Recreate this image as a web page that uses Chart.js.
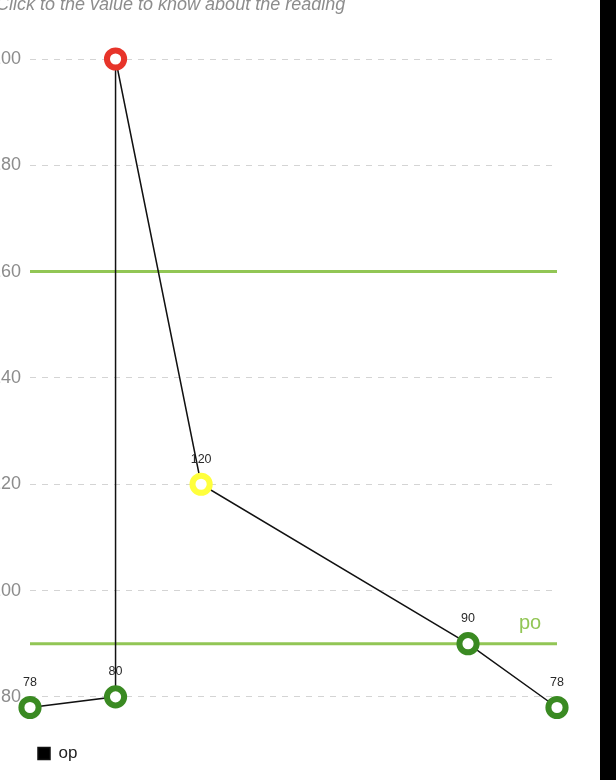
<!DOCTYPE html>
<html>
<head>
<meta charset="utf-8">
<script src="https://cdn.jsdelivr.net/npm/chart.js@4.4.1/dist/chart.umd.min.js"></script>
<style>
  html, body { margin: 0; padding: 0; background: #000; overflow: hidden; }
  #frame { position: relative; width: 600px; height: 780px; background: #fff; overflow: hidden; }
  #wrap { position: absolute; left: -4px; top: -6px; width: 604px; height: 778px; }
</style>
</head>
<body>
<div id="frame">
  <div id="wrap"><canvas id="grafico"></canvas></div>
</div>
<script>
// Dados
const tempos = [0, 1, 1, 2, 5.12, 6.16];
const leituras = [78, 80, 200, 120, 90, 78];
const coresPontos = ['#3a8a22', '#3a8a22', '#e7342a', '#ffff3c', '#3a8a22', '#3a8a22'];
const ticksY = [80, 100, 120, 140, 160, 180, 200];
const limites = [160, 90];
const nomesLimites = ['', 'po'];

const VERDE = '#92c655';
const FONTE = '"Liberation Sans", Arial, sans-serif';

// Linhas de limite (desenhadas por baixo da série)
const pluginLimites = {
    id: 'limites',
    beforeDatasetsDraw(chart) {
        const { ctx, chartArea, scales } = chart;
        ctx.save();
        ctx.strokeStyle = VERDE;
        ctx.lineWidth = 3;
        limites.forEach((valor, i) => {
            const y = scales.y.getPixelForValue(valor);
            ctx.beginPath();
            ctx.moveTo(chartArea.left, y);
            ctx.lineTo(chartArea.right, y);
            ctx.stroke();
            if (nomesLimites[i]) {
                ctx.fillStyle = VERDE;
                ctx.font = '20px ' + FONTE;
                ctx.textAlign = 'center';
                ctx.textBaseline = 'alphabetic';
                ctx.fillText(nomesLimites[i], chartArea.right - 27, y - 15);
            }
        });
        ctx.restore();
    }
};

// Rótulos dos valores acima dos pontos
const pluginRotulos = {
    id: 'rotulos',
    afterDatasetsDraw(chart) {
        const { ctx, chartArea } = chart;
        const meta = chart.getDatasetMeta(0);
        ctx.save();
        ctx.fillStyle = '#2a2a2a';
        ctx.font = '12.5px ' + FONTE;
        ctx.textAlign = 'center';
        ctx.textBaseline = 'middle';
        meta.data.forEach((ponto, i) => {
            const y = ponto.y - 25;
            if (y < chartArea.top) return; // fora da área, não mostra
            ctx.fillText(String(leituras[i]), ponto.x, y);
        });
        ctx.restore();
    }
};

function inicializarGrafico() {
    const ctx = document.getElementById('grafico').getContext('2d');
    return new Chart(ctx, {
        type: 'line',
        data: {
            datasets: [{
                label: 'op',
                data: tempos.map((t, i) => ({ x: t, y: leituras[i] })),
                borderColor: '#111',
                backgroundColor: '#000',
                borderWidth: 1.5,
                tension: 0,
                fill: false,
                clip: false,
                pointRadius: 8.6,
                pointHoverRadius: 8.6,
                pointBorderWidth: 6,
                pointHoverBorderWidth: 6,
                pointBackgroundColor: '#fff',
                pointBorderColor: coresPontos
            }]
        },
        plugins: [pluginLimites, pluginRotulos],
        options: {
            responsive: true,
            maintainAspectRatio: false,
            animation: false,
            events: [],
            layout: { padding: { left: 0, right: 43, top: 0, bottom: 0 } },
            scales: {
                x: {
                    type: 'linear',
                    min: tempos[0],
                    max: tempos[tempos.length - 1],
                    grid: { display: false },
                    border: { display: false },
                    ticks: { display: false },
                    afterFit(scale) { scale.height = 29.5; }
                },
                y: {
                    min: 78,
                    max: 200,
                    afterBuildTicks(scale) {
                        scale.ticks = ticksY.map(v => ({ value: v }));
                    },
                    afterFit(scale) { scale.width = 34; },
                    grid: {
                        color: '#d4d4d4',
                        lineWidth: 1,
                        drawTicks: false
                    },
                    border: { display: false, dash: [6, 6] },
                    ticks: {
                        padding: 9,
                        color: '#8c8c8c',
                        font: { size: 18, family: FONTE }
                    }
                }
            },
            plugins: {
                title: {
                    display: true,
                    text: 'Click to the value to know about the reading',
                    align: 'start',
                    color: '#8c8c8c',
                    padding: { top: 0, bottom: 43.4 },
                    font: { size: 18, style: 'italic', weight: 'normal', family: FONTE }
                },
                legend: {
                    position: 'bottom',
                    align: 'start',
                    fullSize: false,
                    labels: {
                        boxWidth: 12,
                        boxHeight: 12,
                        padding: 8,
                        color: '#222',
                        font: { size: 17, family: FONTE }
                    }
                },
                tooltip: { enabled: false }
            }
        }
    });
}

const chart = inicializarGrafico();
</script>
</body>
</html>
